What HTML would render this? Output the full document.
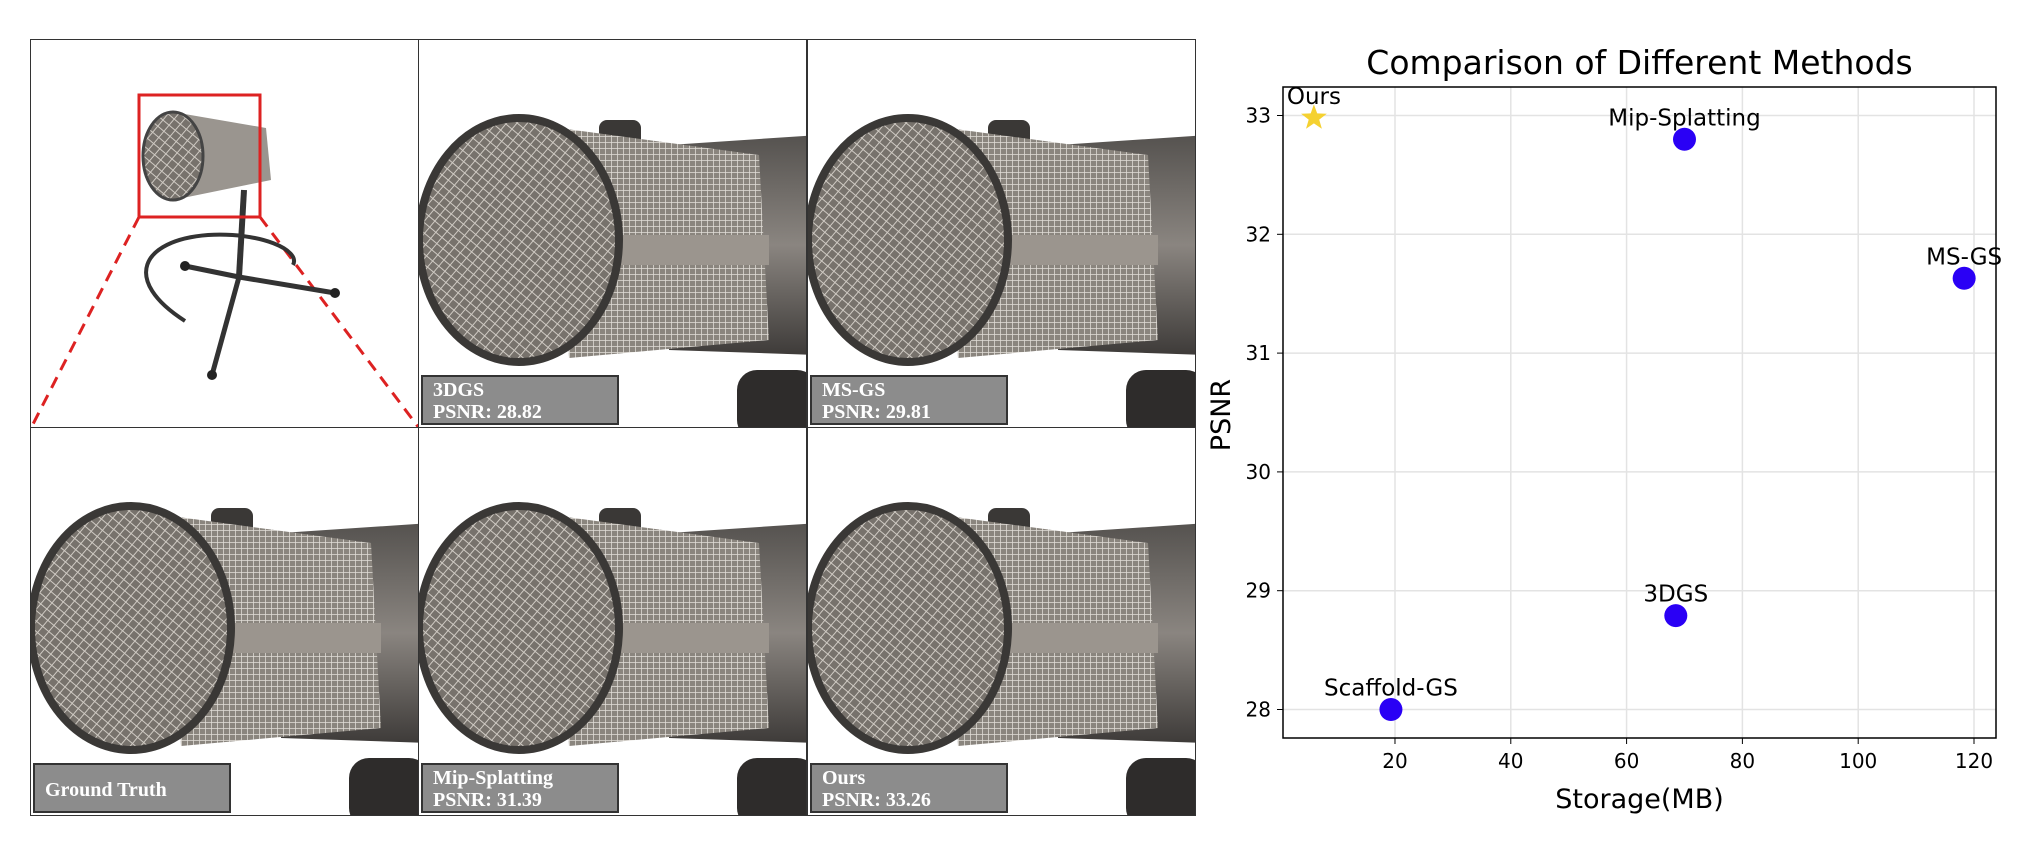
<!DOCTYPE html>
<html><head><meta charset="utf-8"><style>
body{margin:0;background:#fff;width:2032px;height:845px;overflow:hidden;position:relative;font-family:"Liberation Sans",sans-serif}
.panel{position:absolute;border:1px solid #333;box-sizing:border-box;overflow:hidden;background:#fff}
.lab{position:absolute;left:2px;bottom:2px;width:198px;height:50px;background:#8c8c8c;border:2px solid #333;box-sizing:border-box;color:#fff;font-family:"Liberation Serif",serif;font-weight:bold;font-size:20px;line-height:22px;padding:2px 0 0 10px}
</style></head><body>
<svg width="0" height="0" style="position:absolute">
<defs>
<pattern id="mesh" width="8" height="8" patternUnits="userSpaceOnUse" patternTransform="rotate(40)">
<rect width="8" height="8" fill="#77726c"/><path d="M0 0H8M0 0V8" stroke="#cfcac3" stroke-width="2"/></pattern>
<pattern id="mesh2" width="6" height="6" patternUnits="userSpaceOnUse">
<rect width="6" height="6" fill="#8a857e"/><path d="M0 0H6M0 0V6" stroke="#e2ded8" stroke-width="1.5"/></pattern>
<linearGradient id="barrel" x1="0" y1="0" x2="0" y2="1"><stop offset="0" stop-color="#55524f"/><stop offset="0.5" stop-color="#8a8580"/><stop offset="1" stop-color="#3e3b39"/></linearGradient>
<g id="mic">
<rect x="318" y="330" width="80" height="70" rx="20" fill="#2e2c2b"/>
<rect x="180" y="80" width="42" height="70" rx="8" fill="#3a3836"/>
<path d="M250 105 L400 95 L400 315 L250 310 Z" fill="url(#barrel)"/>
<path d="M140 88 L340 115 L350 300 L150 318 Z" fill="url(#mesh2)"/>
<rect x="190" y="195" width="160" height="30" fill="#9b958e"/>
<ellipse cx="100" cy="200" rx="100" ry="122" fill="url(#mesh)" stroke="#3a3836" stroke-width="8"/>
</g>
</defs></svg>

<div class="panel" style="left:30px;top:39px;width:389px;height:389px">
<svg width="389" height="389">
<line x1="108" y1="177" x2="0" y2="388" stroke="#d22" stroke-width="3" stroke-dasharray="12,8"/>
<line x1="229" y1="177" x2="388" y2="388" stroke="#d22" stroke-width="3" stroke-dasharray="12,8"/>
<path d="M154 281 C 90 240, 110 200, 177 195 C 230 192, 270 210, 262 225" fill="none" stroke="#333" stroke-width="4"/>
<line x1="213" y1="150" x2="208" y2="237" stroke="#333" stroke-width="6"/>
<line x1="208" y1="237" x2="181" y2="335" stroke="#333" stroke-width="5"/>
<line x1="208" y1="237" x2="304" y2="253" stroke="#333" stroke-width="5"/>
<line x1="208" y1="237" x2="154" y2="226" stroke="#333" stroke-width="5"/>
<circle cx="181" cy="335" r="5" fill="#222"/><circle cx="304" cy="253" r="5" fill="#222"/><circle cx="154" cy="226" r="5" fill="#222"/>
<path d="M142 72 L235 88 L240 140 L142 160 Z" fill="#9a958f"/>
<ellipse cx="142" cy="116" rx="30" ry="44" fill="url(#mesh)" stroke="#444" stroke-width="3"/>
<rect x="108" y="55" width="121" height="122" fill="none" stroke="#d22" stroke-width="3"/>
</svg></div>

<div class="panel" style="left:418px;top:39px;width:389px;height:389px"><svg width="389" height="389"><use href="#mic"/></svg><div class="lab">3DGS<br>PSNR: 28.82</div></div>
<div class="panel" style="left:807px;top:39px;width:389px;height:389px"><svg width="389" height="389"><use href="#mic"/></svg><div class="lab">MS-GS<br>PSNR: 29.81</div></div>
<div class="panel" style="left:30px;top:427px;width:389px;height:389px"><svg width="389" height="389"><use href="#mic"/></svg><div class="lab" style="padding-top:14px">Ground Truth</div></div>
<div class="panel" style="left:418px;top:427px;width:389px;height:389px"><svg width="389" height="389"><use href="#mic"/></svg><div class="lab">Mip-Splatting<br>PSNR: 31.39</div></div>
<div class="panel" style="left:807px;top:427px;width:389px;height:389px"><svg width="389" height="389"><use href="#mic"/></svg><div class="lab">Ours<br>PSNR: 33.26</div></div>

<svg id="chart" width="2032" height="845" style="position:absolute;left:0;top:0;font-family:'DejaVu Sans',sans-serif"></svg>
<script>
const methods=["Ours","Mip-Splatting","MS-GS","3DGS","Scaffold-GS"];
const storage=[6.0,70.0,118.3,68.5,19.3];
const psnr=[32.98,32.8,31.63,28.79,28.0];
const xTicks=[20,40,60,80,100,120];
const yTicks=[28,29,30,31,32,33];
const L=1283,R=1996,T=87,B=738;
const xMin=0.66,xMax=123.8,yMin=27.76,yMax=33.24;
const sx=v=>L+(v-xMin)/(xMax-xMin)*(R-L);
const sy=v=>B-(v-yMin)/(yMax-yMin)*(B-T);
const svg=document.getElementById('chart');const NS='http://www.w3.org/2000/svg';
function mk(t,a,txt){const e=document.createElementNS(NS,t);for(const k in a)e.setAttribute(k,a[k]);if(txt!==undefined)e.textContent=txt;svg.appendChild(e);return e;}
xTicks.forEach(v=>{const g=mk('line',{x1:sx(v),x2:sx(v),y1:T,y2:B,stroke:'#e3e3e3','stroke-width':1.5});


const t=mk('line',{x1:sx(v),x2:sx(v),y1:B,y2:B+6,stroke:'#000'});


const l=mk('text',{x:sx(v),y:B+30,'text-anchor':'middle','font-size':20},v);

});
yTicks.forEach(v=>{const g=mk('line',{x1:L,x2:R,y1:sy(v),y2:sy(v),stroke:'#e3e3e3','stroke-width':1.5});


const t=mk('line',{x1:L-6,x2:L,y1:sy(v),y2:sy(v),stroke:'#000'});


const l=mk('text',{x:L-12,y:sy(v)+7,'text-anchor':'end','font-size':20},v);

});
const fr=mk('rect',{x:L,y:T,width:R-L,height:B-T,fill:'none',stroke:'#000','stroke-width':1.5});


methods.forEach((m,i)=>{const x=sx(storage[i]),y=sy(psnr[i]);let p;
if(i===0){let pts=[];for(let k=0;k<10;k++){const r=k%2?5.5:13.5,a=-Math.PI/2+k*Math.PI/5;pts.push((x+r*Math.cos(a)).toFixed(1)+','+(y+r*Math.sin(a)).toFixed(1));}
p=mk('polygon',{points:pts.join(' '),fill:'#f5d130'});}
else p=mk('circle',{cx:x,cy:y,r:11.5,fill:'#2a00f5'});


const t=mk('text',{x:x,y:y-14,'text-anchor':'middle','font-size':23},m);

});
const ti=mk('text',{x:(L+R)/2,y:74,'text-anchor':'middle','font-size':33},'Comparison of Different Methods');


const xl=mk('text',{x:(L+R)/2,y:808,'text-anchor':'middle','font-size':27},'Storage(MB)');


const yl=mk('text',{x:1230,y:415,'text-anchor':'middle','font-size':27,transform:'rotate(-90 1230 415)'},'PSNR');


</script>
</body></html>
